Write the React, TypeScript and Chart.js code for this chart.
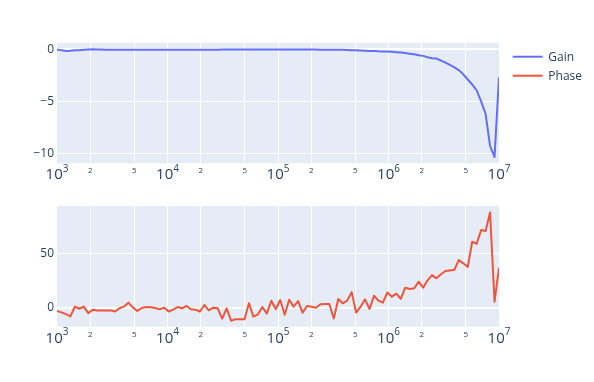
import React, { useEffect, useRef } from "react";
import { Chart, registerables } from "chart.js";

Chart.register(...registerables);

// ---------- data ----------
const SERIES_NAMES = ["Gain", "Phase"];
const SERIES_COLORS = ["#636efa", "#EF553B"];

const FREQ_HZ = [
  1000, 1098, 1205, 1322, 1451, 1592, 1748, 1918, 2105, 2310, 2535, 2783, 3054, 3352, 3678, 4037, 4431, 4863, 5337, 5857, 6428, 7055, 7743, 8498, 9326,
  10240, 11230, 12330, 13530, 14850, 16300, 17890, 19630, 21540, 23640, 25950, 28480, 31260, 34300, 37650, 41320, 45350, 49770, 54620, 59950, 65790, 72210, 79250, 86970, 95450,
  104800, 115000, 126200, 138500, 152000, 166800, 183100, 200900, 220500, 242000, 265600, 291500, 319900, 351100, 385400, 422900, 464200, 509400, 559100, 613600, 673500, 739100, 811100, 890200, 977000,
  1072000, 1177000, 1292000, 1417000, 1556000, 1707000, 1874000, 2057000, 2257000, 2477000, 2719000, 2984000, 3275000, 3594000, 3945000, 4329000, 4751000, 5214000, 5722000, 6280000, 6892000, 7564000, 8302000, 9112000, 10000000,
];

const GAIN_DB = [
  -0.02, -0.1, -0.15, -0.13, -0.1, -0.08, -0.05, -0.02, 0.0, -0.01,
  -0.02, -0.03, -0.03, -0.03, -0.04, -0.04, -0.05, -0.05, -0.04, -0.04,
  -0.04, -0.04, -0.04, -0.04, -0.04, -0.04, -0.04, -0.04, -0.03, -0.03,
  -0.03, -0.03, -0.03, -0.03, -0.03, -0.03, -0.03, -0.02, -0.02, -0.02,
  -0.02, -0.02, -0.02, -0.02, -0.02, -0.02, -0.02, -0.02, -0.02, -0.02,
  -0.02, -0.02, -0.02, -0.02, -0.02, -0.02, -0.02, -0.02, -0.02, -0.03,
  -0.03, -0.03, -0.04, -0.04, -0.05, -0.06, -0.08, -0.09, -0.11, -0.13,
  -0.15, -0.17, -0.19, -0.2, -0.21, -0.23, -0.27, -0.31, -0.36, -0.42,
  -0.48, -0.56, -0.63, -0.76, -0.85, -0.88, -1.08, -1.28, -1.5, -1.73,
  -2.0, -2.4, -2.9, -3.38, -3.95, -5.0, -6.2, -9.3, -10.35, -2.7,
];

const PHASE_DEG = [
  -3.0, -4.3, -6.0, -8.0, 1.0, -1.0, 1.0, -5.0, -2.0, -2.7,
  -2.5, -2.5, -2.5, -3.5, -0.5, 1.0, 4.6, 0.3, -3.0, -0.3,
  0.6, 0.3, -0.3, -1.5, 0.0, -3.5, -1.8, 0.6, -0.6, 1.6,
  -1.5, -1.8, -3.7, 2.5, -2.4, 0.0, -0.6, -10.1, -0.6, -11.9,
  -10.7, -10.7, -10.7, 4.0, -8.2, -6.1, 0.6, -5.5, 6.4, -1.2,
  7.0, -6.5, 7.3, 1.0, 6.1, -4.6, 1.5, 0.9, 0.0, 3.1,
  3.4, 3.4, -9.9, 8.0, 4.0, 6.5, 14.3, -4.5, 0.9, 7.7,
  -1.2, 11.0, 6.5, 4.6, 14.0, 10.1, 12.9, 8.0, 18.4, 17.2,
  17.8, 23.9, 18.4, 25.2, 30.0, 27.0, 30.7, 33.7, 34.3, 34.9,
  43.8, 40.8, 37.4, 60.7, 58.8, 71.4, 70.5, 87.6, 5.5, 36.8,
];

const X_TICKS = [1e3, 2e3, 5e3, 1e4, 2e4, 5e4, 1e5, 2e5, 5e5, 1e6, 2e6, 5e6, 1e7];
const GAIN_TICKS = [-10, -5, 0];
const PHASE_TICKS = [0, 50];

// ---------- styling ----------
const W = 594;
const H = 382;
const FONT = '"Open Sans", "DejaVu Sans", sans-serif';
const TEXT = "#2a3f5f";
const BG = "#E5ECF6";

const bgPlugin = {
  id: "plotBg",
  beforeDraw(chart: any) {
    const { ctx, chartArea: a } = chart;
    ctx.save();
    ctx.fillStyle = BG;
    ctx.fillRect(a.left, a.top, a.right - a.left, a.bottom - a.top);
    ctx.restore();
  },
};

const xLabelPlugin = {
  id: "xLogLabels",
  afterDraw(chart: any) {
    const { ctx, chartArea: a } = chart;
    const s = chart.scales.x;
    ctx.save();
    ctx.fillStyle = TEXT;
    ctx.textBaseline = "alphabetic";
    for (const v of X_TICKS) {
      const x = s.getPixelForValue(v);
      const e = Math.floor(Math.log10(v) + 1e-9);
      const m = Math.round(v / Math.pow(10, e));
      if (m === 1) {
        ctx.font = `15px ${FONT}`;
        const w10 = ctx.measureText("10").width;
        ctx.font = `10px ${FONT}`;
        const we = ctx.measureText(String(e)).width;
        const x0 = x - (w10 + we) / 2;
        ctx.font = `15px ${FONT}`;
        ctx.textAlign = "left";
        ctx.fillText("10", x0, a.bottom + 16);
        ctx.font = `10px ${FONT}`;
        ctx.fillText(String(e), x0 + w10, a.bottom + 8.5);
      } else {
        ctx.font = `8px ${FONT}`;
        ctx.textAlign = "center";
        ctx.fillText(String(m), x, a.bottom + 10);
      }
    }
    ctx.restore();
  },
};

const legendPlugin = {
  id: "sideLegend",
  afterDraw(chart: any) {
    const { ctx } = chart;
    ctx.save();
    SERIES_NAMES.forEach((name, i) => {
      const y = 56.7 + i * 19;
      ctx.strokeStyle = SERIES_COLORS[i];
      ctx.lineWidth = 2;
      ctx.beginPath();
      ctx.moveTo(512.7, y);
      ctx.lineTo(542.7, y);
      ctx.stroke();
      ctx.fillStyle = TEXT;
      ctx.font = `12px ${FONT}`;
      ctx.textAlign = "left";
      ctx.textBaseline = "middle";
      ctx.fillText(name, 548.3, y + 0.5);
    });
    ctx.restore();
  },
};

function fmt(v: number) {
  return v < 0 ? "\u2212" + Math.abs(v) : String(v);
}

function makeConfig(
  idx: number,
  values: number[],
  yMin: number,
  yMax: number,
  yTicks: number[],
  top: number,
  bottom: number,
  withLegend: boolean
): any {
  const plugins: any[] = [bgPlugin, xLabelPlugin];
  if (withLegend) plugins.push(legendPlugin);
  return {
    type: "line",
    data: {
      datasets: [
        {
          label: SERIES_NAMES[idx],
          data: FREQ_HZ.map((f, i) => ({ x: f, y: values[i] })),
          borderColor: SERIES_COLORS[idx],
          backgroundColor: SERIES_COLORS[idx],
          borderWidth: 2,
          borderJoinStyle: "round",
          pointRadius: 0,
          tension: 0,
          fill: false,
        },
      ],
    },
    options: {
      responsive: false,
      animation: false,
      devicePixelRatio: 1,
      events: [],
      layout: { padding: { left: 0, right: W - 499, top, bottom: H - bottom } },
      plugins: { legend: { display: false }, tooltip: { enabled: false } },
      scales: {
        x: {
          type: "logarithmic",
          min: 1e3,
          max: 1e7,
          border: { display: false },
          grid: {
            drawTicks: false,
            lineWidth: 1,
            color: (c: any) =>
              c.tick && (c.tick.value === 1e3 || c.tick.value === 1e7) ? "rgba(0,0,0,0)" : "#ffffff",
          },
          ticks: { display: false },
          afterBuildTicks: (s: any) => {
            s.ticks = X_TICKS.map((v) => ({ value: v }));
          },
          afterFit: (s: any) => {
            s.height = 0;
          },
        },
        y: {
          type: "linear",
          min: yMin,
          max: yMax,
          border: { display: false },
          grid: {
            drawTicks: false,
            color: "#ffffff",
            lineWidth: (c: any) => (c.tick && c.tick.value === 0 ? 2 : 1),
          },
          ticks: {
            color: TEXT,
            font: { family: FONT, size: 12 },
            padding: 3,
            callback: (v: any) => fmt(Number(v)),
          },
          afterBuildTicks: (s: any) => {
            s.ticks = yTicks.map((v) => ({ value: v }));
          },
          afterFit: (s: any) => {
            s.width = 57;
          },
        },
      },
    },
    plugins,
  };
}

export default function App() {
  const topRef = useRef<HTMLCanvasElement | null>(null);
  const botRef = useRef<HTMLCanvasElement | null>(null);

  useEffect(() => {
    const c1 = new Chart(
      topRef.current as HTMLCanvasElement,
      makeConfig(0, GAIN_DB, -10.96, 0.64, GAIN_TICKS, 42.67, 163.33, true)
    );
    const c2 = new Chart(
      botRef.current as HTMLCanvasElement,
      makeConfig(1, PHASE_DEG, -17.48, 93.56, PHASE_TICKS, 206, 326.67, false)
    );
    return () => {
      c1.destroy();
      c2.destroy();
    };
  }, []);

  const cs: React.CSSProperties = { position: "absolute", left: 0, top: 0, width: W, height: H };
  return (
    <div style={{ position: "absolute", left: 0, top: 0, width: W, height: H, background: "#ffffff" }}>
      <canvas ref={topRef} width={W} height={H} style={cs} />
      <canvas ref={botRef} width={W} height={H} style={cs} />
    </div>
  );
}
